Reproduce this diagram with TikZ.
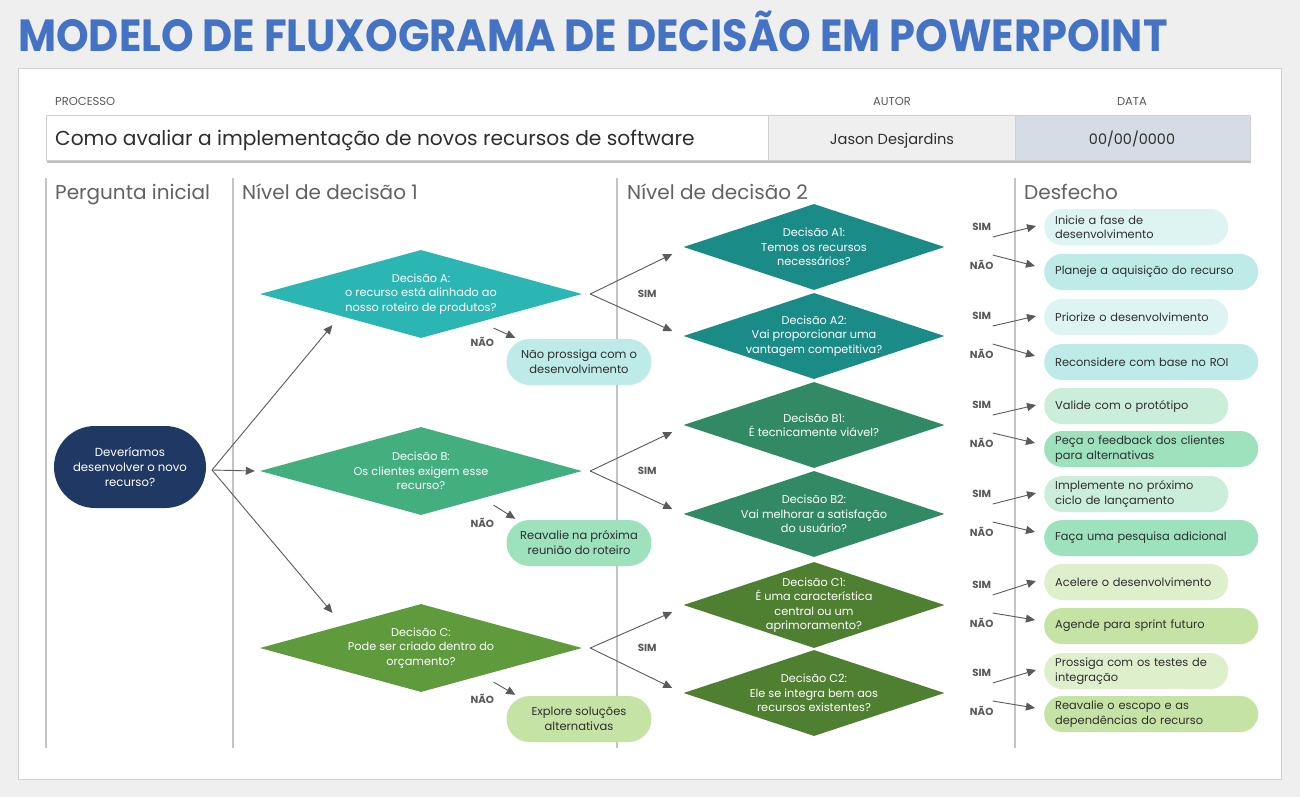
\documentclass[tikz,border=0pt]{standalone}
\usepackage{fontspec}
\setmainfont{Poppins}
\usetikzlibrary{shapes.geometric,arrows.meta,calc}
\definecolor{bgc}{HTML}{EFEFEF}
\definecolor{panelb}{HTML}{D0D0D0}
\definecolor{titleblue}{HTML}{4472C4}
\definecolor{divc}{HTML}{C4C4C4}
\definecolor{labc}{HTML}{595959}
\definecolor{colc}{HTML}{626262}
\definecolor{txtc}{HTML}{2E2E2E}
\definecolor{arrc}{HTML}{5A5A5A}
\definecolor{startc}{HTML}{203864}
\definecolor{cA}{HTML}{2BB5B3}
\definecolor{cAA}{HTML}{1A8B87}
\definecolor{cB}{HTML}{43AF7E}
\definecolor{cBB}{HTML}{318A63}
\definecolor{cC}{HTML}{5F9A3C}
\definecolor{cCC}{HTML}{4F7F31}
\definecolor{oA}{HTML}{BEEBE8}
\definecolor{oAl}{HTML}{DDF4F2}
\definecolor{oB}{HTML}{9DE1BD}
\definecolor{oBl}{HTML}{CBEEDA}
\definecolor{oC}{HTML}{C6E3A6}
\definecolor{oCl}{HTML}{DEEFCC}
\definecolor{cell2}{HTML}{EFEFEF}
\definecolor{cell3}{HTML}{D6DCE5}
\definecolor{cellb}{HTML}{CFCFCF}
\begin{document}
\begin{tikzpicture}[x=1pt,y=-1pt,
  dia/.style={diamond, draw=none, inner sep=0pt, minimum width=322pt, minimum height=88pt},
  diasm/.style={diamond, draw=none, inner sep=0pt, minimum width=261pt, minimum height=86pt},
  dtext/.style={text=white, align=center, inner sep=0pt, font=\fontsize{11.3}{14.5}\selectfont},
  startnode/.style={rectangle, rounded corners=41pt, fill=startc, text=white, align=center, minimum width=152pt, minimum height=82pt, inner sep=0pt, font=\fontsize{11.7}{14.8}\selectfont},
  lone/.style={rectangle, rounded corners=23pt, minimum width=145pt, minimum height=46pt, inner sep=0pt, align=center, text=txtc, font=\fontsize{11.5}{15}\selectfont},
  outs/.style={rectangle, rounded corners=18pt, anchor=west, minimum height=36pt, inner xsep=11pt, inner ysep=0pt, text width=162pt, align=left, text=txtc, font=\fontsize{11.4}{14.5}\selectfont},
  outn/.style={outs, text width=192pt},
  yn/.style={text=labc, font=\fontsize{10.3}{10}\selectfont\bfseries, inner sep=0pt},
  arr/.style={draw=arrc, line width=0.9pt, -{Triangle[length=9pt,width=8pt]}},
  divider/.style={draw=divc, line width=1.2pt},
  hdrlab/.style={text=labc, font=\fontsize{11.5}{12}\selectfont, inner sep=0pt},
  colhead/.style={text=colc, anchor=base west, inner sep=0pt, font=\fontsize{20}{22}\selectfont}
]
\useasboundingbox (0,0) rectangle (1300,797);
\fill[bgc] (0,0) rectangle (1300,797);
\draw[panelb, fill=white, line width=1pt] (18,69) rectangle (1281,779);

% title
\node[anchor=base west, inner sep=0pt, text=titleblue, font=\fontsize{45}{45}\selectfont\bfseries] (title) at (18,52) {\scalebox{0.922}[1]{MODELO DE FLUXOGRAMA DE DECISÃO EM POWERPOINT}};

% header
\node[hdrlab, anchor=base west] (lproc) at (55,106) {PROCESSO};
\node[hdrlab, anchor=base] (laut) at (892,106) {AUTOR};
\node[hdrlab, anchor=base] (ldat) at (1132,106) {DATA};
\fill[black!25] (47,160) rectangle (1251,163);
\draw[cellb, fill=white] (46,115) rectangle (768,160);
\draw[cellb, fill=cell2] (768,115) rectangle (1015,160);
\draw[cellb, fill=cell3] (1015,115) rectangle (1250,160);
\node[anchor=base west, inner sep=0pt, text=txtc, font=\fontsize{20.2}{22}\selectfont] (proc) at (55,146) {Como avaliar a implementação de novos recursos de software};
\node[anchor=base, inner sep=0pt, text=txtc, font=\fontsize{14.6}{16}\selectfont] (aut) at (892,144) {Jason Desjardins};
\node[anchor=base, inner sep=0pt, text=txtc, font=\fontsize{14.4}{16}\selectfont] (dat) at (1132,144) {00/00/0000};

% dividers
\draw[divider] (46,178) -- (46,748);
\draw[divider] (233,178) -- (233,748);
\draw[divider] (617,178) -- (617,748);
\draw[divider] (1015,178) -- (1015,748);

% column heads
\node[colhead] (h1) at (55,199) {Pergunta inicial};
\node[colhead] (h2) at (242,199) {Nível de decisão 1};
\node[colhead] (h3) at (627,199) {Nível de decisão 2};
\node[colhead] (h4) at (1024,199) {Desfecho};

% start
\node[startnode] (S) at (130,467) {Deveríamos\\desenvolver o novo\\recurso?};
\coordinate (s0) at (212,470);

% level 1 diamonds
\node[dia, fill=cA] (A) at (421,294) {};
\node[dtext] (At) at (A) {Decisão A:\\o recurso está alinhado ao\\nosso roteiro de produtos?};
\node[dia, fill=cB] (B) at (421,471) {};
\node[dtext] (Bt) at (B) {Decisão B:\\Os clientes exigem esse\\recurso?};
\node[dia, fill=cC] (C) at (421,648) {};
\node[dtext] (Ct) at (C) {Decisão C:\\Pode ser criado dentro do\\orçamento?};

\draw[arr] (s0) -- ([shift={(-8,9)}]A.south west);
\draw[arr] (s0) -- ([xshift=-5]B.west);
\draw[arr] (s0) -- ([shift={(-8,-13)}]C.north west);

% level 1 NAO outcomes
\node[lone, fill=oA] (nA) at (579,362) {Não prossiga com o\\desenvolvimento};
\node[lone, fill=oB] (nB) at (579,543) {Reavalie na próxima\\reunião do roteiro};
\node[lone, fill=oC] (nC) at (579,719) {Explore soluções\\alternativas};
\foreach \d/\o in {A/nA,B/nB,C/nC}{
  \draw[arr] ([shift={(-8,12)}]\d.south east) -- ([shift={(9,-1)}]\o.north west);
  \node[yn] at ([shift={(-24,3)}]\o.north west) {NÃO};
}

% level 2 diamonds
\node[diasm, fill=cAA] (A1) at (814,247) {};
\node[dtext] (A1t) at (A1) {Decisão A1:\\Temos os recursos\\necessários?};
\node[diasm, fill=cAA] (A2) at (814,336) {};
\node[dtext] (A2t) at (A2) {Decisão A2:\\Vai proporcionar uma\\vantagem competitiva?};
\node[diasm, fill=cBB] (B1) at (814,425) {};
\node[dtext] (B1t) at (B1) {Decisão B1:\\É tecnicamente viável?};
\node[diasm, fill=cBB] (B2) at (814,514) {};
\node[dtext] (B2t) at (B2) {Decisão B2:\\Vai melhorar a satisfação\\do usuário?};
\node[diasm, fill=cCC] (C1) at (814,605) {};
\node[dtext] (C1t) at (C1) {Decisão C1:\\É uma característica\\central ou um\\aprimoramento?};
\node[diasm, fill=cCC] (C2) at (814,693) {};
\node[dtext] (C2t) at (C2) {Decisão C2:\\Ele se integra bem aos\\recursos existentes?};

% level 1 SIM branches
\foreach \d/\u/\l in {A/A1/A2,B/B1/B2,C/C1/C2}{
  \coordinate (\d s) at ([xshift=8]\d.east);
  \draw[arr] (\d s) -- ([shift={(-11,7)}]\u.west);
  \draw[arr] (\d s) -- ([shift={(-11,-5)}]\l.west);
  \node[yn] at ([xshift=65]\d.east) {SIM};
}

% outcomes level 2
\node[outs, fill=oAl] (A1S) at (1044,227) {Inicie a fase de\\desenvolvimento};
\node[outn, fill=oA] (A1N) at (1044,272) {Planeje a aquisição do recurso};
\node[outs, fill=oAl] (A2S) at (1044,317) {Priorize o desenvolvimento};
\node[outn, fill=oA] (A2N) at (1044,362) {Reconsidere com base no ROI};
\node[outs, fill=oBl] (B1S) at (1044,406) {Valide com o protótipo};
\node[outn, fill=oB] (B1N) at (1044,449) {Peça o feedback dos clientes\\para alternativas};
\node[outs, fill=oBl] (B2S) at (1044,494) {Implemente no próximo\\ciclo de lançamento};
\node[outn, fill=oB] (B2N) at (1044,538) {Faça uma pesquisa adicional};
\node[outs, fill=oCl] (C1S) at (1044,582) {Acelere o desenvolvimento};
\node[outn, fill=oC] (C1N) at (1044,626) {Agende para sprint futuro};
\node[outs, fill=oCl] (C2S) at (1044,671) {Prossiga com os testes de\\integração};
\node[outn, fill=oC] (C2N) at (1044,714) {Reavalie o escopo e as\\dependências do recurso};

\foreach \d in {A1,A2,B1,B2,C1,C2}{
  \node[yn] at ([shift={(37,-20)}]\d.east) {SIM};
  \node[yn] at ([shift={(37,18)}]\d.east) {NÃO};
  \draw[arr] ([shift={(48,-10)}]\d.east) -- ([shift={(-8,-1)}]\d S.west);
  \draw[arr] ([shift={(48,8)}]\d.east) -- ([shift={(-9,-6)}]\d N.west);
}
\end{tikzpicture}
\end{document}
